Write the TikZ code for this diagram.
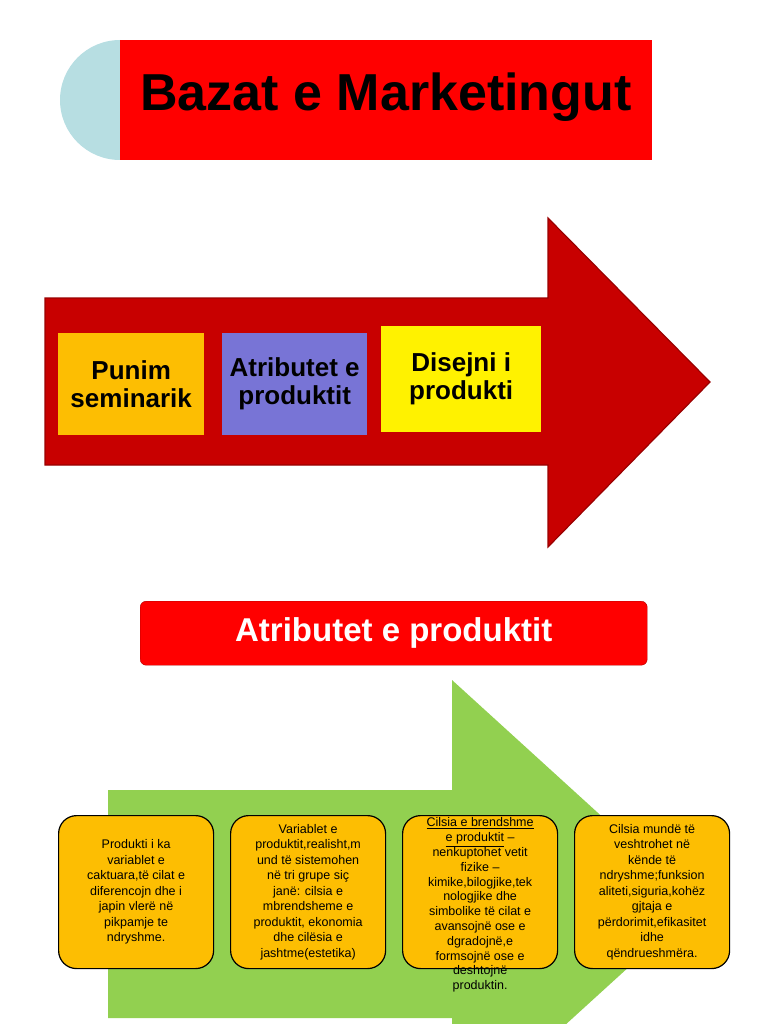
\documentclass[tikz,border=0pt]{standalone}
\usepackage{fontspec}
\setmainfont{Liberation Sans}
\begin{document}
\begin{tikzpicture}[x=1pt,y=-1pt,
 box/.style={anchor=north west,inner sep=0pt,align=center,font=\bfseries\fontsize{26}{28}\selectfont},
 card/.style={draw=black,line width=1.2pt,rounded corners=18pt,fill=cardor,anchor=north west,minimum width=155pt,minimum height=153pt,inner sep=2pt,align=center,font=\fontsize{12.5}{15.5}\selectfont}]
\definecolor{cardor}{RGB}{253,190,2}
\definecolor{redar}{RGB}{200,0,0}
\definecolor{lblue}{RGB}{183,222,226}
\definecolor{grn}{RGB}{146,208,80}
\useasboundingbox (0,0) rectangle (768,1024);
\clip (0,0) rectangle (768,1024);
% title
\fill[lblue] (120,100) circle (60);
\fill[red] (120,40) rectangle (652,160);
\node[font=\bfseries\fontsize{52}{56}\selectfont] (title) at (386,97) {Bazat e Marketingut};
% red arrow
\draw[draw=red!60!black,fill=redar,line width=1.2pt] (45,298) -- (548,298) -- (548,218) -- (710,382) -- (548,547) -- (548,465) -- (45,465) -- cycle;
\node[box,fill=cardor,minimum width=146pt,minimum height=102pt] (b1) at (58,333) {Punim\\seminarik};
\node[box,fill={rgb,255:red,120;green,116;blue,214},minimum width=145pt,minimum height=102pt] (b2) at (222,333) {Atributet e\\produktit};
\node[box,fill=yellow,minimum width=160pt,minimum height=106pt] (b3) at (381,326) {Disejni i\\produkti};
% banner
\node[draw=red!70!black,fill=red,rounded corners=6pt,anchor=north west,minimum width=507pt,minimum height=64pt,text=white,font=\bfseries\fontsize{33}{35}\selectfont] (banner) at (140,601) {Atributet e produktit};
% green arrow
\fill[grn] (108,790) -- (452,790) -- (452,680) -- (698,904) -- (452,1128) -- (452,1018) -- (108,1018) -- cycle;
\node[card] (c1) at (58,815) {Produkti i ka\\variablet e\\caktuara,të cilat e\\diferencojn dhe i\\japin vlerë në\\pikpamje te\\ndryshme.};
\node[card] (c2) at (230,815) {Variablet e\\produktit,realisht,m\\und të sistemohen\\në tri grupe siç\\janë: cilsia e\\mbrendsheme e\\produktit, ekonomia\\dhe cilësia e\\jashtme(estetika)};
\node[card] (c3) at (402,815) {};
\node[align=center,inner sep=0pt,font=\fontsize{12.5}{14.8}\selectfont] (t3) at ([yshift=-13pt]c3.center) {\underline{Cilsia e brendshme}\\\underline{e produktit} –\\nenkuptohet vetit\\fizike –\\kimike,bilogjike,tek\\nologjike dhe\\simbolike të cilat e\\avansojnë ose e\\dgradojnë,e\\formsojnë ose e\\deshtojnë\\produktin.};
\node[card] (c4) at (574,815) {Cilsia mundë të\\veshtrohet në\\kënde të\\ndryshme;funksion\\aliteti,siguria,kohëz\\gjtaja e\\përdorimit,efikasitet\\idhe\\qëndrueshmëra.};
\end{tikzpicture}
\end{document}
